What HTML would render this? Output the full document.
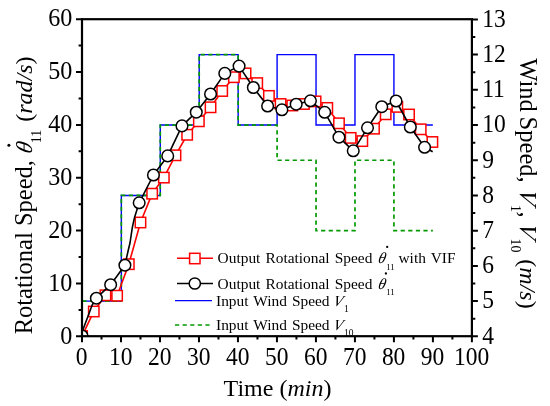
<!DOCTYPE html>
<html><head><meta charset="utf-8"><style>
html,body{margin:0;padding:0;background:#fff;}
svg{display:block;will-change:transform;}
text{font-family:"Liberation Serif",serif;fill:#000;}
</style></head><body>
<svg width="550" height="406" viewBox="0 0 550 406">
<rect x="0" y="0" width="550" height="406" fill="#fff"/>
<defs><clipPath id="pc"><rect x="82" y="19" width="390" height="317"/></clipPath></defs>

<g clip-path="url(#pc)">
<polyline points="82.40,301.09 121.34,301.09 121.34,195.46 160.28,195.46 160.28,125.04 199.22,125.04 199.22,54.62 238.16,54.62 238.16,125.04 277.10,125.04 277.10,54.62 316.04,54.62 316.04,125.04 354.98,125.04 354.98,54.62 393.92,54.62 393.92,125.04 432.86,125.04" fill="none" stroke="#0000ff" stroke-width="1.4"/>
<polyline points="82.40,301.09 121.34,301.09 121.34,195.46 160.28,195.46 160.28,125.04 199.22,125.04 199.22,54.62 238.16,54.62 238.16,125.04 277.10,125.04 277.10,160.25 316.04,160.25 316.04,230.67 354.98,230.67 354.98,160.25 393.92,160.25 393.92,230.67 432.86,230.67" fill="none" stroke="#009a00" stroke-width="1.7" stroke-dasharray="4.2,3.4"/>
<polyline points="82.10,336.00 93.78,311.50 105.45,295.30 117.13,295.70 128.80,264.20 140.48,222.50 152.16,193.70 163.83,177.60 175.51,155.30 187.18,134.80 198.86,121.30 210.54,107.30 222.21,91.00 233.89,77.20 245.56,73.40 257.24,83.10 268.92,95.90 280.59,104.00 292.27,105.50 303.94,104.00 315.62,101.40 327.30,107.90 338.97,123.30 350.65,137.90 362.32,141.10 374.00,128.70 385.68,114.30 397.35,106.90 409.03,114.50 420.70,129.30 432.38,142.00" fill="none" stroke="#ff0000" stroke-width="1.6"/>
<rect x="76.90" y="330.80" width="10.4" height="10.4" fill="#fff" stroke="#ff0000" stroke-width="1.5"/>
<rect x="88.58" y="306.30" width="10.4" height="10.4" fill="#fff" stroke="#ff0000" stroke-width="1.5"/>
<rect x="100.25" y="290.10" width="10.4" height="10.4" fill="#fff" stroke="#ff0000" stroke-width="1.5"/>
<rect x="111.93" y="290.50" width="10.4" height="10.4" fill="#fff" stroke="#ff0000" stroke-width="1.5"/>
<rect x="123.60" y="259.00" width="10.4" height="10.4" fill="#fff" stroke="#ff0000" stroke-width="1.5"/>
<rect x="135.28" y="217.30" width="10.4" height="10.4" fill="#fff" stroke="#ff0000" stroke-width="1.5"/>
<rect x="146.96" y="188.50" width="10.4" height="10.4" fill="#fff" stroke="#ff0000" stroke-width="1.5"/>
<rect x="158.63" y="172.40" width="10.4" height="10.4" fill="#fff" stroke="#ff0000" stroke-width="1.5"/>
<rect x="170.31" y="150.10" width="10.4" height="10.4" fill="#fff" stroke="#ff0000" stroke-width="1.5"/>
<rect x="181.98" y="129.60" width="10.4" height="10.4" fill="#fff" stroke="#ff0000" stroke-width="1.5"/>
<rect x="193.66" y="116.10" width="10.4" height="10.4" fill="#fff" stroke="#ff0000" stroke-width="1.5"/>
<rect x="205.34" y="102.10" width="10.4" height="10.4" fill="#fff" stroke="#ff0000" stroke-width="1.5"/>
<rect x="217.01" y="85.80" width="10.4" height="10.4" fill="#fff" stroke="#ff0000" stroke-width="1.5"/>
<rect x="228.69" y="72.00" width="10.4" height="10.4" fill="#fff" stroke="#ff0000" stroke-width="1.5"/>
<rect x="240.36" y="68.20" width="10.4" height="10.4" fill="#fff" stroke="#ff0000" stroke-width="1.5"/>
<rect x="252.04" y="77.90" width="10.4" height="10.4" fill="#fff" stroke="#ff0000" stroke-width="1.5"/>
<rect x="263.72" y="90.70" width="10.4" height="10.4" fill="#fff" stroke="#ff0000" stroke-width="1.5"/>
<rect x="275.39" y="98.80" width="10.4" height="10.4" fill="#fff" stroke="#ff0000" stroke-width="1.5"/>
<rect x="287.07" y="100.30" width="10.4" height="10.4" fill="#fff" stroke="#ff0000" stroke-width="1.5"/>
<rect x="298.74" y="98.80" width="10.4" height="10.4" fill="#fff" stroke="#ff0000" stroke-width="1.5"/>
<rect x="310.42" y="96.20" width="10.4" height="10.4" fill="#fff" stroke="#ff0000" stroke-width="1.5"/>
<rect x="322.10" y="102.70" width="10.4" height="10.4" fill="#fff" stroke="#ff0000" stroke-width="1.5"/>
<rect x="333.77" y="118.10" width="10.4" height="10.4" fill="#fff" stroke="#ff0000" stroke-width="1.5"/>
<rect x="345.45" y="132.70" width="10.4" height="10.4" fill="#fff" stroke="#ff0000" stroke-width="1.5"/>
<rect x="357.12" y="135.90" width="10.4" height="10.4" fill="#fff" stroke="#ff0000" stroke-width="1.5"/>
<rect x="368.80" y="123.50" width="10.4" height="10.4" fill="#fff" stroke="#ff0000" stroke-width="1.5"/>
<rect x="380.48" y="109.10" width="10.4" height="10.4" fill="#fff" stroke="#ff0000" stroke-width="1.5"/>
<rect x="392.15" y="101.70" width="10.4" height="10.4" fill="#fff" stroke="#ff0000" stroke-width="1.5"/>
<rect x="403.83" y="109.30" width="10.4" height="10.4" fill="#fff" stroke="#ff0000" stroke-width="1.5"/>
<rect x="415.50" y="124.10" width="10.4" height="10.4" fill="#fff" stroke="#ff0000" stroke-width="1.5"/>
<rect x="427.18" y="136.80" width="10.4" height="10.4" fill="#fff" stroke="#ff0000" stroke-width="1.5"/>
<polyline points="81.60,336.00 83.30,328.70 92.20,305.00 96.37,298.20 110.64,284.70 124.91,265.20 128.30,250.00 130.00,243.00 132.30,227.60 134.60,217.20 139.18,202.80 153.45,175.00 167.72,155.90 181.99,125.90 196.27,112.20 210.54,94.00 224.81,73.40 239.08,66.10 253.35,87.50 267.62,106.00 281.89,109.80 296.16,104.20 310.43,100.80 324.70,112.30 338.97,137.20 353.24,150.80 367.51,127.80 381.78,106.70 396.05,101.00 410.33,127.00 424.60,147.30 432.68,151.70" fill="none" stroke="#000" stroke-width="1.6" stroke-linejoin="round"/>
<circle cx="82.10" cy="336.00" r="5.8" fill="#fff" stroke="#000" stroke-width="1.5"/>
<circle cx="96.37" cy="298.20" r="5.8" fill="#fff" stroke="#000" stroke-width="1.5"/>
<circle cx="110.64" cy="284.70" r="5.8" fill="#fff" stroke="#000" stroke-width="1.5"/>
<circle cx="124.91" cy="265.20" r="5.8" fill="#fff" stroke="#000" stroke-width="1.5"/>
<circle cx="139.18" cy="202.80" r="5.8" fill="#fff" stroke="#000" stroke-width="1.5"/>
<circle cx="153.45" cy="175.00" r="5.8" fill="#fff" stroke="#000" stroke-width="1.5"/>
<circle cx="167.72" cy="155.90" r="5.8" fill="#fff" stroke="#000" stroke-width="1.5"/>
<circle cx="181.99" cy="125.90" r="5.8" fill="#fff" stroke="#000" stroke-width="1.5"/>
<circle cx="196.27" cy="112.20" r="5.8" fill="#fff" stroke="#000" stroke-width="1.5"/>
<circle cx="210.54" cy="94.00" r="5.8" fill="#fff" stroke="#000" stroke-width="1.5"/>
<circle cx="224.81" cy="73.40" r="5.8" fill="#fff" stroke="#000" stroke-width="1.5"/>
<circle cx="239.08" cy="66.10" r="5.8" fill="#fff" stroke="#000" stroke-width="1.5"/>
<circle cx="253.35" cy="87.50" r="5.8" fill="#fff" stroke="#000" stroke-width="1.5"/>
<circle cx="267.62" cy="106.00" r="5.8" fill="#fff" stroke="#000" stroke-width="1.5"/>
<circle cx="281.89" cy="109.80" r="5.8" fill="#fff" stroke="#000" stroke-width="1.5"/>
<circle cx="296.16" cy="104.20" r="5.8" fill="#fff" stroke="#000" stroke-width="1.5"/>
<circle cx="310.43" cy="100.80" r="5.8" fill="#fff" stroke="#000" stroke-width="1.5"/>
<circle cx="324.70" cy="112.30" r="5.8" fill="#fff" stroke="#000" stroke-width="1.5"/>
<circle cx="338.97" cy="137.20" r="5.8" fill="#fff" stroke="#000" stroke-width="1.5"/>
<circle cx="353.24" cy="150.80" r="5.8" fill="#fff" stroke="#000" stroke-width="1.5"/>
<circle cx="367.51" cy="127.80" r="5.8" fill="#fff" stroke="#000" stroke-width="1.5"/>
<circle cx="381.78" cy="106.70" r="5.8" fill="#fff" stroke="#000" stroke-width="1.5"/>
<circle cx="396.05" cy="101.00" r="5.8" fill="#fff" stroke="#000" stroke-width="1.5"/>
<circle cx="410.33" cy="127.00" r="5.8" fill="#fff" stroke="#000" stroke-width="1.5"/>
<circle cx="424.60" cy="147.30" r="5.8" fill="#fff" stroke="#000" stroke-width="1.5"/>
</g>
<rect x="82" y="19.2" width="389.9" height="317.0" fill="none" stroke="#000" stroke-width="2.2"/>
<path d="M82.00,336.2v6 M101.50,336.2v3.4 M120.99,336.2v6 M140.49,336.2v3.4 M159.98,336.2v6 M179.47,336.2v3.4 M198.97,336.2v6 M218.47,336.2v3.4 M237.96,336.2v6 M257.46,336.2v3.4 M276.95,336.2v6 M296.44,336.2v3.4 M315.94,336.2v6 M335.44,336.2v3.4 M354.93,336.2v6 M374.43,336.2v3.4 M393.92,336.2v6 M413.42,336.2v3.4 M432.91,336.2v6 M452.41,336.2v3.4 M471.90,336.2v6 M82,336.30h-6 M82,309.88h-3.4 M82,283.45h-6 M82,257.02h-3.4 M82,230.60h-6 M82,204.18h-3.4 M82,177.75h-6 M82,151.33h-3.4 M82,124.90h-6 M82,98.47h-3.4 M82,72.05h-6 M82,45.62h-3.4 M82,19.20h-6 M471.9,336.30h6 M471.9,318.69h3.4 M471.9,301.09h6 M471.9,283.49h3.4 M471.9,265.88h6 M471.9,248.28h3.4 M471.9,230.67h6 M471.9,213.06h3.4 M471.9,195.46h6 M471.9,177.86h3.4 M471.9,160.25h6 M471.9,142.65h3.4 M471.9,125.04h6 M471.9,107.44h3.4 M471.9,89.83h6 M471.9,72.23h3.4 M471.9,54.62h6 M471.9,37.01h3.4 M471.9,19.41h6" stroke="#000" stroke-width="2" fill="none"/>
<text transform="translate(81.70,365) scale(0.94,1)" font-size="25" text-anchor="middle">0</text>
<text transform="translate(120.69,365) scale(0.94,1)" font-size="25" text-anchor="middle">10</text>
<text transform="translate(159.68,365) scale(0.94,1)" font-size="25" text-anchor="middle">20</text>
<text transform="translate(198.67,365) scale(0.94,1)" font-size="25" text-anchor="middle">30</text>
<text transform="translate(237.66,365) scale(0.94,1)" font-size="25" text-anchor="middle">40</text>
<text transform="translate(276.65,365) scale(0.94,1)" font-size="25" text-anchor="middle">50</text>
<text transform="translate(315.64,365) scale(0.94,1)" font-size="25" text-anchor="middle">60</text>
<text transform="translate(354.63,365) scale(0.94,1)" font-size="25" text-anchor="middle">70</text>
<text transform="translate(393.62,365) scale(0.94,1)" font-size="25" text-anchor="middle">80</text>
<text transform="translate(432.61,365) scale(0.94,1)" font-size="25" text-anchor="middle">90</text>
<text transform="translate(471.60,365) scale(0.94,1)" font-size="25" text-anchor="middle">100</text>
<text transform="translate(72.4,343.50) scale(0.965,1)" font-size="25" text-anchor="end">0</text>
<text transform="translate(72.4,290.65) scale(0.965,1)" font-size="25" text-anchor="end">10</text>
<text transform="translate(72.4,237.80) scale(0.965,1)" font-size="25" text-anchor="end">20</text>
<text transform="translate(72.4,184.95) scale(0.965,1)" font-size="25" text-anchor="end">30</text>
<text transform="translate(72.4,132.10) scale(0.965,1)" font-size="25" text-anchor="end">40</text>
<text transform="translate(72.4,79.25) scale(0.965,1)" font-size="25" text-anchor="end">50</text>
<text transform="translate(72.4,26.40) scale(0.965,1)" font-size="25" text-anchor="end">60</text>
<text transform="translate(482.2,343.60) scale(0.94,1)" font-size="25" text-anchor="start">4</text>
<text transform="translate(482.2,308.39) scale(0.94,1)" font-size="25" text-anchor="start">5</text>
<text transform="translate(482.2,273.18) scale(0.94,1)" font-size="25" text-anchor="start">6</text>
<text transform="translate(482.2,237.97) scale(0.94,1)" font-size="25" text-anchor="start">7</text>
<text transform="translate(482.2,202.76) scale(0.94,1)" font-size="25" text-anchor="start">8</text>
<text transform="translate(482.2,167.55) scale(0.94,1)" font-size="25" text-anchor="start">9</text>
<text transform="translate(482.2,132.34) scale(0.94,1)" font-size="25" text-anchor="start">10</text>
<text transform="translate(482.2,97.13) scale(0.94,1)" font-size="25" text-anchor="start">11</text>
<text transform="translate(482.2,61.92) scale(0.94,1)" font-size="25" text-anchor="start">12</text>
<text transform="translate(482.2,26.71) scale(0.94,1)" font-size="25" text-anchor="start">13</text>
<text x="277.5" y="396" font-size="24" text-anchor="middle">Time (<tspan font-style="italic">min</tspan>)</text>
<g transform="translate(32,0) rotate(-90)"><text font-size="24.5"><tspan x="-334.3" y="0">Rotational Speed,</tspan><tspan x="-143.3" y="9" font-size="14">11</tspan><tspan x="-121.8" y="0" font-size="24">(</tspan><tspan font-size="24" font-style="italic">rad/s</tspan><tspan font-size="24">)</tspan></text><text transform="translate(-154.4,0) skewX(-12)" font-size="23" font-style="italic">θ</text></g>
<circle cx="8.9" cy="145.2" r="1.5" fill="#000"/>
<g transform="translate(520,0) rotate(90)"><text font-size="24.5"><tspan x="58.2" y="0" font-size="24.6" word-spacing="-1.5">Wind Speed,</tspan><tspan x="205" y="9.3" font-size="14">1</tspan><tspan x="211.6" y="0">,</tspan><tspan x="238.6" y="9.3" font-size="14">10</tspan><tspan x="259.3" y="0" font-size="24">(</tspan><tspan font-size="24" font-style="italic">m/s</tspan><tspan font-size="24">)</tspan></text><text transform="translate(187.8,0) skewX(-14)" font-size="24.5" font-style="italic">V</text><text transform="translate(221.8,0) skewX(-14)" font-size="24.5" font-style="italic">V</text></g>
<path d="M177,258.2H213" stroke="#ff0000" stroke-width="1.6"/>
<rect x="189.60000000000002" y="253.3" width="10.4" height="10.4" fill="#fff" stroke="#ff0000" stroke-width="1.5"/>
<path d="M177,283.5H213" stroke="#000" stroke-width="1.6"/>
<circle cx="194.8" cy="283.5" r="5.6" fill="#fff" stroke="#000" stroke-width="1.5"/>
<path d="M175,300.6H212" stroke="#0000ff" stroke-width="1.1"/>
<path d="M175,325H210" stroke="#009a00" stroke-width="1.7" stroke-dasharray="4.2,3.4"/>
<text font-size="15.4" word-spacing="1.3"><tspan x="217.6" y="263.3">Output Rotational Speed</tspan><tspan x="386.2" y="269.90000000000003" font-size="9">11</tspan><tspan x="398.5" y="263.3">with VIF</tspan></text><text transform="translate(377.6,263.3) skewX(-12)" font-size="15.4" font-style="italic">θ</text>
<text font-size="15.4" word-spacing="1.3"><tspan x="217.6" y="288.7">Output Rotational Speed</tspan><tspan x="386.2" y="295.3" font-size="9">11</tspan></text><text transform="translate(377.6,288.7) skewX(-12)" font-size="15.4" font-style="italic">θ</text>
<circle cx="387.2" cy="246.9" r="1.15" fill="#000"/>
<circle cx="385.9" cy="273.5" r="1.15" fill="#000"/>
<text font-size="15.4" word-spacing="1.2"><tspan x="216" y="305.8">Input Wind Speed</tspan><tspan x="344" y="311.8" font-size="9.5">1</tspan></text><text transform="translate(332.5,305.8) skewX(-14)" font-size="15.4" font-style="italic">V</text>
<text font-size="15.4" word-spacing="1.2"><tspan x="216" y="329.6">Input Wind Speed</tspan><tspan x="344" y="335.6" font-size="9.5">10</tspan></text><text transform="translate(332.5,329.6) skewX(-14)" font-size="15.4" font-style="italic">V</text>
</svg>
</body></html>
